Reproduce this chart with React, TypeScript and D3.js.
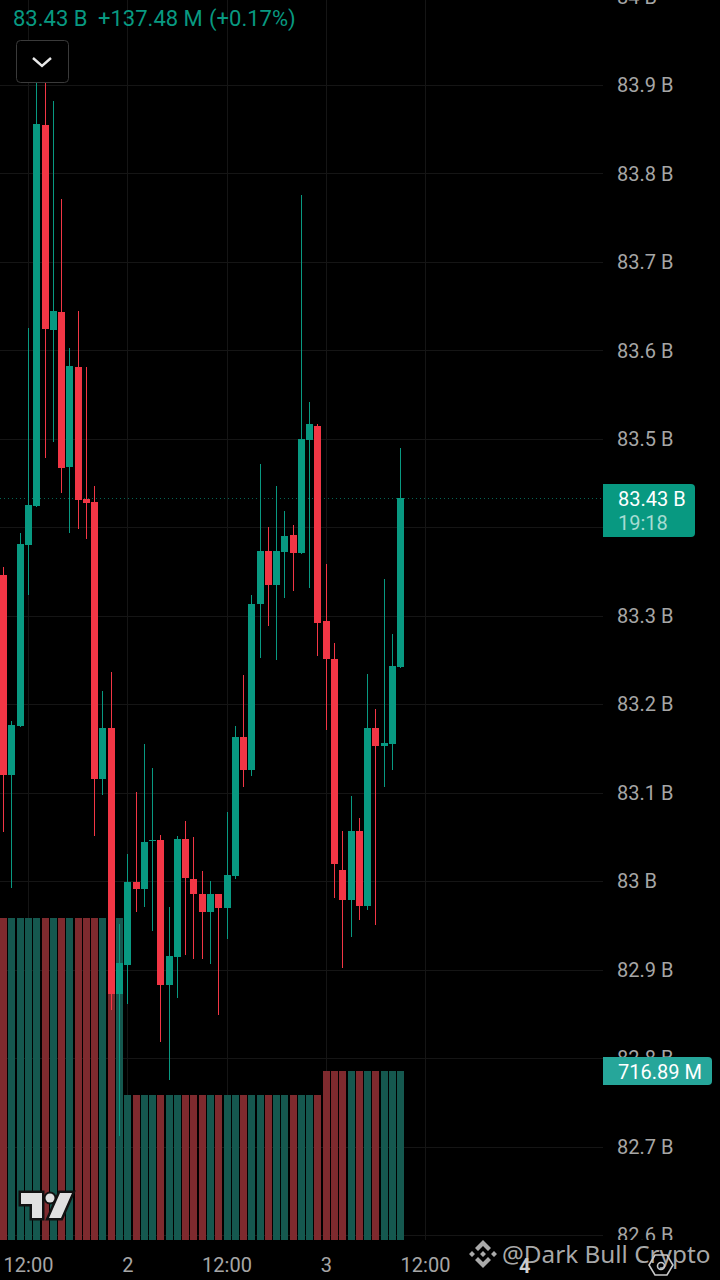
import { useEffect, useRef } from "react";
import * as d3 from "d3";

const opens = [
  83.3463, 83.1204, 83.1757, 83.3802, 83.4243, 83.8548, 83.6232, 83.6435, 83.4684, 83.5814,
  83.4322, 83.4288, 83.1158, 83.1735, 82.8729, 82.9057, 82.9994, 82.9915, 83.0458, 83.0469,
  82.8831, 82.9147, 83.048, 83.0028, 82.9859, 82.9656, 82.9859, 82.9701, 83.0062, 83.1633,
  83.126, 83.3136, 83.3735, 83.335, 83.3723, 83.3915, 83.3712, 83.4989, 83.5147, 83.2944,
  83.2514, 83.013, 82.9791, 83.0571, 82.9723, 83.1735, 83.1531, 83.1554, 83.2424,
];
const closes = [
  83.1204, 83.1768, 83.3814, 83.4254, 83.8559, 83.6243, 83.6446, 83.4672, 83.5825, 83.4311,
  83.4277, 83.1158, 83.1735, 82.8729, 82.9079, 82.9994, 82.9915, 83.0446, 83.0469, 82.8831,
  82.9158, 83.048, 83.004, 82.9859, 82.9656, 82.9859, 82.9701, 83.0074, 83.1633, 83.126,
  83.3136, 83.3735, 83.335, 83.3735, 83.3904, 83.3712, 83.5, 83.517, 83.2921, 83.2514,
  83.0198, 82.9791, 83.0571, 82.9723, 83.1735, 83.1531, 83.1565, 83.2435, 83.4333,
];
const highs = [
  83.3554, 83.1814, 83.3938, 83.6254, 83.9113, 83.9113, 83.8819, 83.7712, 83.6028, 83.6446,
  83.5814, 83.4469, 83.2153, 83.2367, 82.952, 83.0311, 83.1011, 83.1554, 83.1283, 83.0525,
  82.9712, 83.0514, 83.0684, 83.0503, 83.0119, 83.0006, 82.9859, 83.0785, 83.1757, 83.2333,
  83.3237, 83.4718, 83.4006, 83.4469, 83.4186, 83.4028, 83.7757, 83.5418, 83.517, 83.3588,
  83.2695, 83.0571, 83.0966, 83.0718, 83.2345, 83.1949, 83.3418, 83.2797, 83.4898,
];
const lows = [
  83.0559, 82.9927, 83.1746, 83.3237, 83.4232, 83.4785, 83.4966, 83.439, 83.3938, 83.3983,
  83.387, 83.0514, 83.0978, 82.8548, 82.7124, 82.8616, 82.9656, 82.9712, 82.9441, 82.8186,
  82.7757, 82.8684, 82.917, 82.9124, 82.9124, 82.9068, 82.8492, 82.935, 83.0028, 83.1068,
  83.1192, 83.2525, 83.2887, 83.2503, 83.3203, 83.3283, 83.3701, 83.3316, 83.2548, 83.1712,
  82.9814, 82.9023, 82.9373, 82.9565, 82.9678, 82.9509, 83.1068, 83.126, 83.2413,
];
// volume in millions
const volumes = [
  1366, 1366, 1366, 1366, 1366, 1366, 1366, 1366, 1366, 1366, 1366, 1366, 1366, 1366, 1366,
  615, 615, 615, 615, 615, 615, 615, 615, 615, 615, 615, 615, 615, 615, 615, 615, 615, 615,
  615, 615, 615, 615, 615, 615,
  716.89, 716.89, 716.89, 716.89, 716.89, 716.89, 716.89, 716.89, 716.89, 716.89,
];

const priceTicks = [84, 83.9, 83.8, 83.7, 83.6, 83.5, 83.3, 83.2, 83.1, 83, 82.9, 82.8, 82.7, 82.6];
const gridPrices = [84, 83.9, 83.8, 83.7, 83.6, 83.5, 83.4, 83.3, 83.2, 83.1, 83, 82.9, 82.8, 82.7, 82.6];
const timeTickIndex = [3, 15, 27, 39, 51];
const timeTickLabels = ["12:00", "2", "12:00", "3", "12:00"];
const lastPrice = 83.4333;

const UP = "#089981";
const DOWN = "#f23645";
const UP_VOL = "#15584f";
const DOWN_VOL = "#7e2a2e";
const AXIS_TEXT = "#a6a6a6";
const GRID = "#151515";
const FONT = "Roboto, sans-serif";

export default function App() {
  const ref = useRef<SVGSVGElement | null>(null);

  useEffect(() => {
    if (!ref.current) return;
    document.body.style.margin = "0";
    document.body.style.background = "#000";

    const svg = d3.select(ref.current);
    svg.selectAll("*").remove();

    const x = d3.scaleLinear([3, 48], [28.5, 400.7]);
    const y = d3.scaleLinear([83.9, 82.6], [85, 1235]);
    const yVol = d3.scaleLinear([0, 716.89], [1240, 1071]);
    const indexes = d3.range(opens.length);
    const snap = (v: number) => Math.round(v);

    svg.append("clipPath").attr("id", "pane").append("rect").attr("width", 720).attr("height", 1240);
    const pane = svg.append("g").attr("clip-path", "url(#pane)");

    // grid
    pane
      .append("g")
      .selectAll("line")
      .data(gridPrices)
      .join("line")
      .attr("x1", 0)
      .attr("x2", 603)
      .attr("y1", (d) => snap(y(d)) + 0.5)
      .attr("y2", (d) => snap(y(d)) + 0.5)
      .attr("stroke", GRID);
    pane
      .append("g")
      .selectAll("line")
      .data(timeTickIndex)
      .join("line")
      .attr("x1", (d) => Math.floor(x(d)) + 0.5)
      .attr("x2", (d) => Math.floor(x(d)) + 0.5)
      .attr("y1", 0)
      .attr("y2", 1240)
      .attr("stroke", GRID);

    // volume
    pane
      .append("g")
      .attr("shape-rendering", "crispEdges")
      .selectAll("rect")
      .data(indexes)
      .join("rect")
      .attr("x", (i) => Math.floor(x(i)) - 3)
      .attr("width", 7)
      .attr("y", (i) => yVol(volumes[i]))
      .attr("height", (i) => 1240 - yVol(volumes[i]))
      .attr("fill", (i) => (closes[i] >= opens[i] ? UP_VOL : DOWN_VOL));

    // last price line
    pane
      .append("line")
      .attr("x1", 0)
      .attr("x2", 603)
      .attr("y1", snap(y(lastPrice)) + 0.5)
      .attr("y2", snap(y(lastPrice)) + 0.5)
      .attr("stroke", UP)
      .attr("stroke-opacity", 0.65)
      .attr("stroke-dasharray", "1 3");

    // candles
    const candles = pane.append("g").attr("shape-rendering", "crispEdges");
    candles
      .selectAll("line")
      .data(indexes)
      .join("line")
      .attr("x1", (i) => Math.floor(x(i)) + 0.5)
      .attr("x2", (i) => Math.floor(x(i)) + 0.5)
      .attr("y1", (i) => y(highs[i]))
      .attr("y2", (i) => y(lows[i]))
      .attr("stroke", (i) => (closes[i] >= opens[i] ? UP : DOWN));
    candles
      .selectAll("rect")
      .data(indexes)
      .join("rect")
      .attr("x", (i) => Math.floor(x(i)) - 3)
      .attr("width", 7)
      .attr("y", (i) => y(Math.max(opens[i], closes[i])))
      .attr("height", (i) => Math.max(1, Math.abs(y(opens[i]) - y(closes[i]))))
      .attr("fill", (i) => (closes[i] >= opens[i] ? UP : DOWN));

    // price axis
    pane
      .append("g")
      .selectAll("text")
      .data(priceTicks)
      .join("text")
      .attr("x", 617)
      .attr("y", (d) => y(d))
      .attr("dy", "0.36em")
      .attr("font-family", FONT)
      .attr("font-size", 20)
      .attr("fill", AXIS_TEXT)
      .text((d) => `${d} B`);

    // time axis
    svg
      .append("g")
      .selectAll("text")
      .data(timeTickIndex)
      .join("text")
      .attr("x", (d) => x(d))
      .attr("y", 1272)
      .attr("text-anchor", "middle")
      .attr("font-family", FONT)
      .attr("font-size", 20)
      .attr("fill", AXIS_TEXT)
      .text((_, i) => timeTickLabels[i]);
    svg
      .append("text")
      .attr("x", x(63))
      .attr("y", 1273)
      .attr("text-anchor", "middle")
      .attr("font-family", FONT)
      .attr("font-size", 20)
      .attr("font-weight", 700)
      .attr("fill", "#cfcfcf")
      .text("4");

    // header
    const header = svg
      .append("g")
      .attr("font-family", FONT)
      .attr("font-size", 22)
      .attr("fill", UP);
    header.append("text").attr("x", 13).attr("y", 25.5).text("83.43 B");
    header.append("text").attr("x", 98).attr("y", 25.5).text("+137.48 M");
    header.append("text").attr("x", 209).attr("y", 25.5).text("(+0.17%)");

    // collapse button
    svg
      .append("rect")
      .attr("x", 16.5)
      .attr("y", 40.5)
      .attr("width", 52)
      .attr("height", 42)
      .attr("rx", 4)
      .attr("fill", "#000")
      .attr("stroke", "#3a3a3a");
    svg
      .append("path")
      .attr("d", "M33 58L42 66L51 58")
      .attr("fill", "none")
      .attr("stroke", "#e8e8e8")
      .attr("stroke-width", 2.4);

    // last price label
    svg
      .append("path")
      .attr("d", "M603 484H691Q695 484 695 488V533Q695 537 691 537H603Z")
      .attr("fill", UP);
    svg
      .append("text")
      .attr("x", 618)
      .attr("y", 506)
      .attr("font-family", FONT)
      .attr("font-size", 20)
      .attr("fill", "#fff")
      .text("83.43 B");
    svg
      .append("text")
      .attr("x", 618)
      .attr("y", 530)
      .attr("font-family", FONT)
      .attr("font-size", 20)
      .attr("fill", "#a5dcd2")
      .text("19:18");

    // volume label
    svg
      .append("path")
      .attr("d", "M603 1057H708Q712 1057 712 1061V1081Q712 1085 708 1085H603Z")
      .attr("fill", "#26a69a");
    svg
      .append("text")
      .attr("x", 618)
      .attr("y", 1079)
      .attr("font-family", FONT)
      .attr("font-size", 20)
      .attr("fill", "#fff")
      .text("716.89 M");

    // TradingView mark
    svg
      .append("path")
      .attr("d", "M21 1193H42V1218H32V1204H21ZM60 1193H72L61 1218H49Z")
      .attr("fill", "#e0e0e0")
      .attr("stroke", "#111")
      .attr("stroke-width", 5)
      .attr("paint-order", "stroke");
    svg
      .append("circle")
      .attr("cx", 50)
      .attr("cy", 1198)
      .attr("r", 4.5)
      .attr("fill", "#e0e0e0")
      .attr("stroke", "#111")
      .attr("stroke-width", 4)
      .attr("paint-order", "stroke");

    // watermark
    const mark = svg.append("g").attr("fill", "#c8c8c8").attr("fill-opacity", 0.85);
    mark.append("path").attr(
      "d",
      "M483 1240L491 1248L488 1251L483 1246L478 1251L475 1248ZM472 1251L475 1254L472 1257L469 1254ZM494 1251L497 1254L494 1257L491 1254ZM483 1251L486 1254L483 1257L480 1254ZM475 1260L478 1257L483 1262L488 1257L491 1260L483 1268Z"
    );
    mark
      .append("text")
      .attr("x", 502)
      .attr("y", 1263)
      .attr("font-family", "'Noto Sans', sans-serif")
      .attr("font-size", 24.3)
      .text("@Dark Bull Crypto");
    svg
      .append("path")
      .attr("d", "M655 1255H667L673 1265L667 1275H655L649 1265Z")
      .attr("fill", "none")
      .attr("stroke", "#c8c8c8")
      .attr("stroke-width", 1.6);
    svg
      .append("circle")
      .attr("cx", 661)
      .attr("cy", 1266)
      .attr("r", 3.5)
      .attr("fill", "none")
      .attr("stroke", "#c8c8c8")
      .attr("stroke-width", 1.6);
  }, []);

  return (
    <svg
      ref={ref}
      width={720}
      height={1280}
      viewBox="0 0 720 1280"
      style={{ position: "fixed", left: 0, top: 0, background: "#000" }}
    />
  );
}
